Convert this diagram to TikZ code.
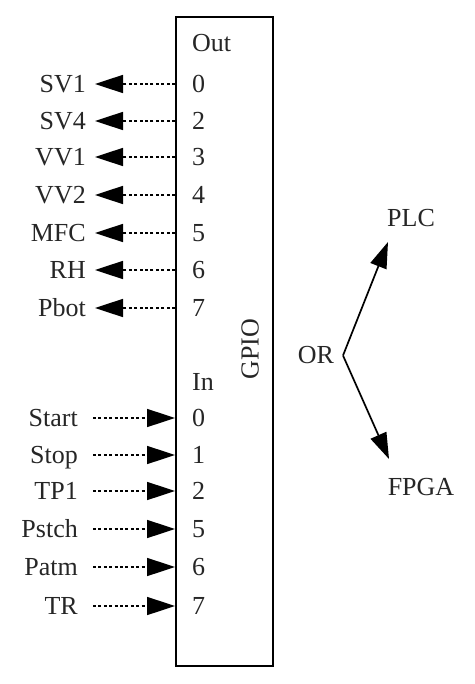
\documentclass[tikz,border=0pt]{standalone}
\usepackage{fontspec}
\setmainfont{Liberation Serif}
\usetikzlibrary{arrows.meta}
\tikzset{
  lbl/.style={inner sep=0pt, text height=17pt, text depth=0pt, font=\fontsize{26}{30}\selectfont, text=black!85},
  pin/.style={lbl, anchor=west},
  sig/.style={lbl, anchor=east},
  outarrow/.style={line width=1.6pt, dash pattern=on 3pt off 2.4pt, -{Triangle[length=28pt,width=18pt]}},
  inarrow/.style={line width=1.6pt, dash pattern=on 3pt off 2.4pt, -{Triangle[length=28pt,width=18pt]}},
  orarrow/.style={line width=1.7pt, -{Triangle[length=26pt,width=17pt]}},
}
\begin{document}
\begin{tikzpicture}[x=1pt,y=-1pt]
\useasboundingbox (0,0) rectangle (474,684);
\node[draw, line width=2pt, minimum width=97pt, minimum height=649pt, inner sep=0pt] (box) at (224.5,341.5) {};
\node[lbl, rotate=90] (gpio) at (250,349) {GPIO};
\node[pin] (out) at (192,43) {Out};
\node[pin] (in) at (192,382) {In};
% outputs
\foreach \name/\num/\y [count=\i] in {SV1/0/84, SV4/2/121, VV1/3/157, VV2/4/195, MFC/5/233, RH/6/270, Pbot/7/308}{
  \node[pin] (on\i) at (192,\y) {\num};
  \node[sig] (os\i) at (86,\y) {\name};
  \draw[outarrow] (box.west |- on\i) -- ([xshift=9pt]os\i.east);
}
% inputs
\foreach \name/\num/\y [count=\i] in {Start/0/418, Stop/1/455, TP1/2/491, Pstch/5/529, Patm/6/567, TR/7/606}{
  \node[pin] (inn\i) at (192,\y) {\num};
  \node[sig] (ins\i) at (78,\y) {\name};
  \draw[inarrow] ([xshift=15pt]ins\i.east) -- (box.west |- inn\i);
}
\node[lbl] (or) at (316,355) {OR};
\node[lbl] (plc) at (411,218) {PLC};
\node[lbl] (fpga) at (421,487) {FPGA};
\coordinate (orp) at (343,355.5);
\coordinate (tplc) at (388,242);
\coordinate (tfpga) at (389,459);
\draw[orarrow] (orp) -- (tplc);
\draw[orarrow] (orp) -- (tfpga);
\end{tikzpicture}
\end{document}
